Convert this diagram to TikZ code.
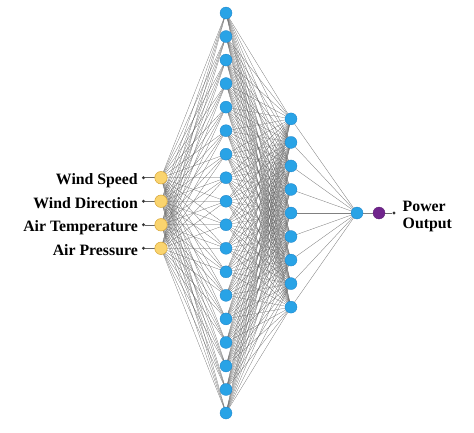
\documentclass[tikz,border=0pt]{standalone}
\usepackage{fontspec}
\setmainfont{Liberation Serif}
\usetikzlibrary{backgrounds}
\definecolor{nblue}{RGB}{41,163,230}
\definecolor{nblueedge}{RGB}{30,130,200}
\definecolor{nyellow}{RGB}{250,212,110}
\definecolor{nyellowedge}{RGB}{215,165,55}
\definecolor{npurple}{RGB}{112,36,140}
\begin{document}
\begin{tikzpicture}[x=1bp,y=-1bp,
  neuron/.style={circle,fill=nblue,draw=nblueedge,line width=0.3bp,minimum size=12bp,inner sep=0pt},
  inneuron/.style={circle,fill=nyellow,draw=nyellowedge,line width=0.5bp,minimum size=12.5bp,inner sep=0pt},
  outneuron/.style={circle,fill=npurple,draw=npurple!80!black,line width=0.3bp,minimum size=12bp,inner sep=0pt},
  tinydot/.style={circle,fill=black!80,minimum size=3.3bp,inner sep=0pt},
  lbl/.style={font=\bfseries\fontsize{15.8bp}{17bp}\selectfont,inner sep=0pt},
  conn/.style={draw=black!62,line width=0.22bp},
  conn2/.style={draw=black!50,line width=0.35bp},
  lead/.style={draw=black!60,line width=0.5bp}]
\useasboundingbox (0,0) rectangle (474,432);
% hidden layer 1
\foreach \k in {0,...,17}
  \node[neuron] (h\k) at (226,{13+23.53*\k}) {};
% hidden layer 2
\foreach \j in {0,...,8}
  \node[neuron] (g\j) at (291,{213+23.53*(\j-4)}) {};
% output
\node[neuron] (o) at (357,213) {};
\node[outneuron] (p) at (379,213) {};
\node[tinydot] (pd) at (394,213) {};
\node[lbl,anchor=base west] (pw) at (402.5,211.7) {Power};
\node[lbl,anchor=base west] (op) at (402.5,228.2) {Output};
% inputs
\foreach \a/\t [count=\n from 0] in {1/Wind Speed,2/Wind Direction,3/Air Temperature,4/Air Pressure}{
  \node[inneuron] (i\a) at (161,{177.7+23.53*\n}) {};
  \node[tinydot] (d\a) at (143.5,{177.7+23.53*\n}) {};
  \node[lbl,anchor=base east] (l\a) at (138,{184.7+23.53*\n}) {\t};
}
\begin{pgfonlayer}{background}
  \foreach \a in {1,...,4}
    \foreach \k in {0,...,17}
      \draw[conn] (i\a.center) -- (h\k.center);
  \foreach \k in {0,...,17}
    \foreach \j in {0,...,8}
      \draw[conn] (h\k.center) -- (g\j.center);
  \foreach \j in {0,...,8}
    \draw[conn2] (g\j.center) -- (o.center);
  \draw[conn2] (o) -- (p);
  \draw[lead] (p) -- (pd);
  \foreach \a in {1,...,4}
    \draw[lead] (d\a) -- (i\a);
\end{pgfonlayer}
\end{tikzpicture}
\end{document}
